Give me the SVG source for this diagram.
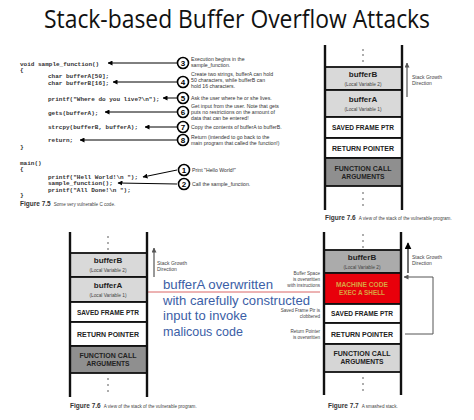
<svg xmlns="http://www.w3.org/2000/svg" width="474" height="420" viewBox="0 0 474 420">
<defs>
<marker id="ah" viewBox="0 0 10 10" refX="9" refY="5" markerWidth="5" markerHeight="5" orient="auto-start-reverse" markerUnits="userSpaceOnUse">
<path d="M0,0 L10,5 L0,10 z" fill="#000"/>
</marker>
<marker id="ah2" viewBox="0 0 10 10" refX="9" refY="5" markerWidth="7" markerHeight="7" orient="auto-start-reverse" markerUnits="userSpaceOnUse">
<path d="M0,0 L10,5 L0,10 z" fill="#000"/>
</marker>
<marker id="ah3" viewBox="0 0 10 10" refX="9" refY="5" markerWidth="5" markerHeight="5" orient="auto-start-reverse" markerUnits="userSpaceOnUse">
<path d="M0,0 L10,5 L0,10 z" fill="#555"/>
</marker>
</defs>
<style>
.title{font-family:"Open Sans","Liberation Sans",sans-serif;font-size:25px;fill:#111}
.code{font-family:"Liberation Mono",monospace;font-size:6px;font-weight:bold;fill:#333}
.note{font-family:"Liberation Sans",sans-serif;font-size:5.2px;fill:#333}
.num{font-family:"Liberation Sans",sans-serif;font-size:8px;font-weight:bold;fill:#000;text-anchor:middle}
.circ{fill:#fff;stroke:#000;stroke-width:1.6}
.arr{stroke:#000;stroke-width:1;fill:none}
.rail{stroke:#111;stroke-width:2.4}
.box{stroke:#111;stroke-width:1.8}
.lb{font-family:"Liberation Sans",sans-serif;font-size:8px;font-weight:bold;fill:#222;text-anchor:middle}
.ls{font-family:"Liberation Sans",sans-serif;font-size:4.8px;fill:#444;text-anchor:middle}
.sm{font-family:"Liberation Sans",sans-serif;font-size:5px;fill:#444}
.smr{font-family:"Liberation Sans",sans-serif;font-size:4.6px;fill:#444;text-anchor:end}
.figb{font-family:"Liberation Sans",sans-serif;font-size:6.5px;font-weight:bold;fill:#333}
.figs{font-family:"Liberation Sans",sans-serif;font-size:4.6px;fill:#444}
.dot{fill:#444}
.blue{font-family:"Liberation Sans",sans-serif;font-size:13.5px;fill:#3b5ea6}
.mc{font-family:"Liberation Sans",sans-serif;font-size:8px;font-weight:bold;fill:#d9a441;text-anchor:middle}
</style>
<rect width="474" height="420" fill="#fff"/>
<text class="title" x="237" y="28" text-anchor="middle" textLength="386" lengthAdjust="spacingAndGlyphs">Stack-based Buffer Overflow Attacks</text>

<g id="code">
<text class="code" x="20" y="66">void sample_function()</text>
<text class="code" x="20" y="72">{</text>
<text class="code" x="48" y="78">char bufferA[50];</text>
<text class="code" x="48" y="85">char bufferB[16];</text>
<text class="code" x="48" y="101">printf("Where do you live?\n");</text>
<text class="code" x="48" y="115">gets(bufferA);</text>
<text class="code" x="48" y="129">strcpy(bufferB, bufferA);</text>
<text class="code" x="48" y="142">return;</text>
<text class="code" x="20" y="149">}</text>
<text class="code" x="20" y="165">main()</text>
<text class="code" x="20" y="171">{</text>
<text class="code" x="48" y="179">printf("Hell World!\n ");</text>
<text class="code" x="48" y="185">sample_function();</text>
<text class="code" x="48" y="192">printf("All Done!\n ");</text>
<text class="code" x="20" y="197">}</text>
<text x="20" y="206"><tspan class="figb">Figure 7.5</tspan><tspan class="figs" dx="3">Some very vulnerable C code.</tspan></text>
</g>

<g id="connectors">
<line class="arr" x1="177" y1="63" x2="108" y2="63" marker-end="url(#ah)"/>
<line class="arr" x1="177" y1="82" x2="113" y2="82" marker-end="url(#ah)"/>
<line class="arr" x1="177" y1="98" x2="163" y2="98" marker-end="url(#ah)"/>
<line class="arr" x1="177" y1="112" x2="105" y2="112" marker-end="url(#ah)"/>
<line class="arr" x1="177" y1="127" x2="145" y2="127" marker-end="url(#ah)"/>
<line class="arr" x1="177" y1="140" x2="80" y2="140" marker-end="url(#ah)"/>
<line class="arr" x1="177" y1="170" x2="143" y2="177" marker-end="url(#ah)"/>
<line class="arr" x1="177" y1="184" x2="118" y2="183" marker-end="url(#ah)"/>
<line x1="407" y1="97" x2="407" y2="63" stroke="#333" stroke-width="1" marker-end="url(#ah3)"/>
<line x1="154" y1="277" x2="154" y2="248" stroke="#333" stroke-width="1" marker-end="url(#ah3)"/>
<line x1="408" y1="273" x2="408" y2="243" stroke="#111" stroke-width="1.2" marker-end="url(#ah2)"/>
<path d="M405,334 H433 V277 H404" fill="none" stroke="#555" stroke-width="1" marker-end="url(#ah3)"/>
<line x1="147" y1="292" x2="320" y2="292" stroke="#d04040" stroke-width="0.8"/>
</g>

<g id="notes">
<circle class="circ" cx="183" cy="63" r="5.5"/><text class="num" x="183" y="66">3</text>
<text class="note" x="191" y="61">Execution begins in the</text>
<text class="note" x="191" y="67">sample_function.</text>
<circle class="circ" cx="183" cy="82" r="5.5"/><text class="num" x="183" y="85">4</text>
<text class="note" x="191" y="76">Create two strings, bufferA can hold</text>
<text class="note" x="191" y="82">50 characters, while bufferB can</text>
<text class="note" x="191" y="88">hold 16 characters.</text>
<circle class="circ" cx="183" cy="98" r="5.5"/><text class="num" x="183" y="101">5</text>
<text class="note" x="191" y="100">Ask the user where he or she lives.</text>
<circle class="circ" cx="183" cy="112" r="5.5"/><text class="num" x="183" y="115">6</text>
<text class="note" x="191" y="108">Get input from the user. Note that gets</text>
<text class="note" x="191" y="114">puts no restrictions on the amount of</text>
<text class="note" x="191" y="120">data that can be entered!</text>
<circle class="circ" cx="183" cy="127" r="5.5"/><text class="num" x="183" y="130">7</text>
<text class="note" x="191" y="129">Copy the contents of bufferA to bufferB.</text>
<circle class="circ" cx="183" cy="140" r="5.5"/><text class="num" x="183" y="143">8</text>
<text class="note" x="191" y="139">Return (intended to go back to the</text>
<text class="note" x="191" y="145">main program that called the function!)</text>
<circle class="circ" cx="184" cy="170" r="5.5"/><text class="num" x="184" y="173">1</text>
<text class="note" x="192" y="172">Print "Hello World!"</text>
<circle class="circ" cx="184" cy="184" r="5.5"/><text class="num" x="184" y="187">2</text>
<text class="note" x="192" y="186">Call the sample_function.</text>
</g>

<g id="stack1">
<rect class="box" x="325" y="67" width="77" height="23" fill="#d9d9d9"/>
<rect class="box" x="325" y="90" width="77" height="27" fill="#d9d9d9"/>
<rect class="box" x="325" y="117" width="77" height="21" fill="#fff"/>
<rect class="box" x="325" y="138" width="77" height="20" fill="#fff"/>
<rect class="box" x="325" y="158" width="77" height="28" fill="#8f8f8f"/>
<line class="rail" x1="325" y1="45" x2="325" y2="210"/>
<line class="rail" x1="402" y1="45" x2="402" y2="210"/>
<circle class="dot" cx="363" cy="50" r="0.8"/><circle class="dot" cx="363" cy="55" r="0.8"/><circle class="dot" cx="363" cy="61" r="0.8"/>
<circle class="dot" cx="363" cy="193" r="0.8"/><circle class="dot" cx="363" cy="199" r="0.8"/><circle class="dot" cx="363" cy="205" r="0.8"/>
<text class="lb" x="363" y="77">bufferB</text>
<text class="ls" x="363" y="86">(Local Variable 2)</text>
<text class="lb" x="363" y="102">bufferA</text>
<text class="ls" x="363" y="111">(Local Variable 1)</text>
<text class="lb" x="363" y="130" textLength="62" lengthAdjust="spacingAndGlyphs">SAVED FRAME PTR</text>
<text class="lb" x="363" y="151" textLength="62" lengthAdjust="spacingAndGlyphs">RETURN POINTER</text>
<text class="lb" x="363" y="171" textLength="57" lengthAdjust="spacingAndGlyphs">FUNCTION CALL</text>
<text class="lb" x="363" y="179" textLength="43" lengthAdjust="spacingAndGlyphs">ARGUMENTS</text>
<text class="sm" x="412" y="79">Stack Growth</text>
<text class="sm" x="412" y="85">Direction</text>
<text x="325" y="220"><tspan class="figb">Figure 7.6</tspan><tspan class="figs" dx="3">A view of the stack of the vulnerable program.</tspan></text>
</g>

<g id="stack2">
<rect class="box" x="70" y="253" width="77" height="24" fill="#d9d9d9"/>
<rect class="box" x="70" y="277" width="77" height="25" fill="#d9d9d9"/>
<rect class="box" x="70" y="302" width="77" height="20" fill="#fff"/>
<rect class="box" x="70" y="322" width="77" height="24" fill="#fff"/>
<rect class="box" x="70" y="346" width="77" height="27" fill="#8f8f8f"/>
<line class="rail" x1="70" y1="232" x2="70" y2="397"/>
<line class="rail" x1="147" y1="232" x2="147" y2="397"/>
<circle class="dot" cx="108" cy="237" r="0.8"/><circle class="dot" cx="108" cy="243" r="0.8"/><circle class="dot" cx="108" cy="249" r="0.8"/>
<circle class="dot" cx="108" cy="379" r="0.8"/><circle class="dot" cx="108" cy="385" r="0.8"/><circle class="dot" cx="108" cy="391" r="0.8"/>
<text class="lb" x="108" y="263">bufferB</text>
<text class="ls" x="108" y="272">(Local Variable 2)</text>
<text class="lb" x="108" y="288">bufferA</text>
<text class="ls" x="108" y="297">(Local Variable 1)</text>
<text class="lb" x="108" y="315" textLength="62" lengthAdjust="spacingAndGlyphs">SAVED FRAME PTR</text>
<text class="lb" x="108" y="337" textLength="62" lengthAdjust="spacingAndGlyphs">RETURN POINTER</text>
<text class="lb" x="108" y="358" textLength="57" lengthAdjust="spacingAndGlyphs">FUNCTION CALL</text>
<text class="lb" x="108" y="366" textLength="43" lengthAdjust="spacingAndGlyphs">ARGUMENTS</text>
<text class="sm" x="157" y="265">Stack Growth</text>
<text class="sm" x="157" y="271">Direction</text>
<text x="70" y="408"><tspan class="figb">Figure 7.6</tspan><tspan class="figs" dx="3">A view of the stack of the vulnerable program.</tspan></text>
</g>

<g id="callout">
<text class="blue" x="163" y="289" textLength="110" lengthAdjust="spacingAndGlyphs">bufferA overwritten</text>
<text class="blue" x="163" y="304.5" textLength="147" lengthAdjust="spacingAndGlyphs">with carefully constructed</text>
<text class="blue" x="163" y="320" textLength="84" lengthAdjust="spacingAndGlyphs">input to invoke</text>
<text class="blue" x="163" y="335.5" textLength="80" lengthAdjust="spacingAndGlyphs">malicous code</text>
</g>

<g id="stack3">
<rect class="box" x="324" y="250" width="77" height="23" fill="#ababab"/>
<rect class="box" x="324" y="273" width="77" height="31" fill="#e8000b"/>
<rect class="box" x="324" y="304" width="77" height="19" fill="#fff"/>
<rect class="box" x="324" y="323" width="77" height="21" fill="#fff"/>
<rect class="box" x="324" y="344" width="77" height="28" fill="#d6d6d6"/>
<line class="rail" x1="324" y1="232" x2="324" y2="395"/>
<line class="rail" x1="401" y1="232" x2="401" y2="395"/>
<circle class="dot" cx="363" cy="235" r="0.8"/><circle class="dot" cx="363" cy="241" r="0.8"/><circle class="dot" cx="363" cy="247" r="0.8"/>
<circle class="dot" cx="363" cy="378" r="0.8"/><circle class="dot" cx="363" cy="384" r="0.8"/><circle class="dot" cx="363" cy="390" r="0.8"/>
<text class="lb" x="362" y="260">bufferB</text>
<text class="ls" x="362" y="269">(Local Variable 2)</text>
<text class="mc" x="362" y="287" textLength="52" lengthAdjust="spacingAndGlyphs">MACHINE CODE</text>
<text class="mc" x="362" y="295" textLength="46" lengthAdjust="spacingAndGlyphs">EXEC A SHELL</text>
<text class="lb" x="362" y="316" textLength="62" lengthAdjust="spacingAndGlyphs">SAVED FRAME PTR</text>
<text class="lb" x="362" y="337" textLength="62" lengthAdjust="spacingAndGlyphs">RETURN POINTER</text>
<text class="lb" x="362" y="356" textLength="57" lengthAdjust="spacingAndGlyphs">FUNCTION CALL</text>
<text class="lb" x="362" y="364" textLength="43" lengthAdjust="spacingAndGlyphs">ARGUMENTS</text>
<text class="sm" x="412" y="259">Stack Growth</text>
<text class="sm" x="412" y="265">Direction</text>
<text class="smr" x="320" y="275">Buffer Space</text>
<text class="smr" x="320" y="281">is overwritten</text>
<text class="smr" x="320" y="287">with instructions</text>
<text class="smr" x="320" y="312">Saved Frame Ptr is</text>
<text class="smr" x="320" y="318">clobbered</text>
<text class="smr" x="320" y="333">Return Pointer</text>
<text class="smr" x="320" y="339">is overwritten</text>
<text x="328" y="408"><tspan class="figb">Figure 7.7</tspan><tspan class="figs" dx="3">A smashed stack.</tspan></text>
</g>
</svg>
